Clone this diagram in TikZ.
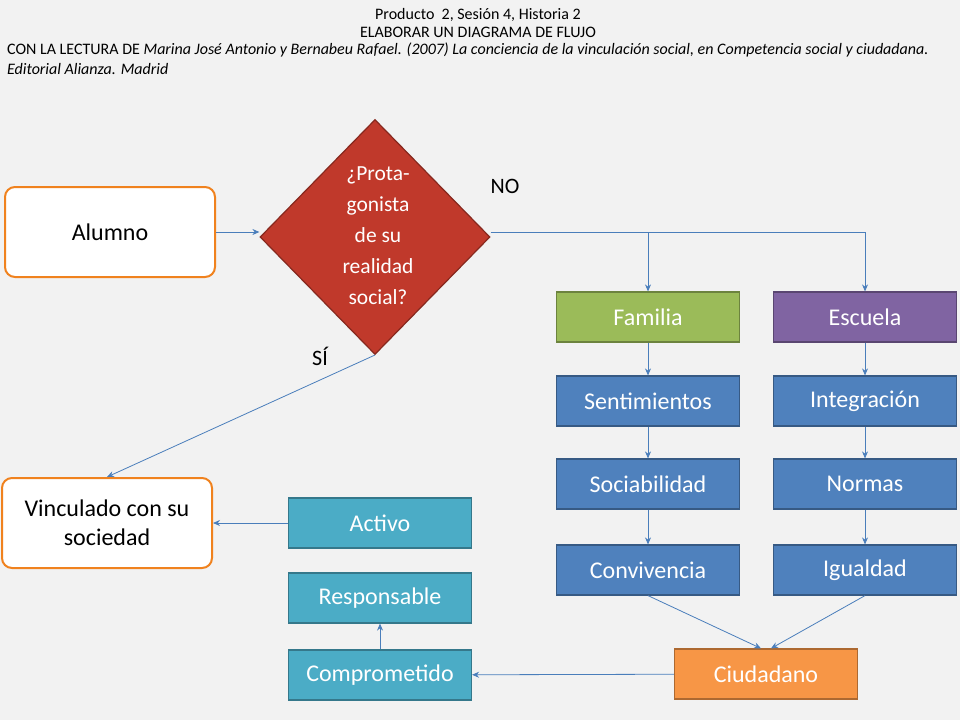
\documentclass[tikz,border=0pt]{standalone}
\usepackage{fontspec}
\setmainfont{Carlito}
\usetikzlibrary{shapes.geometric,arrows.meta}
\definecolor{bg}{HTML}{F2F2F2}
\definecolor{org}{HTML}{F0821E}
\definecolor{dred}{HTML}{C0392B}
\definecolor{grn}{HTML}{9BBB59}
\definecolor{prp}{HTML}{8064A2}
\definecolor{blu}{HTML}{4F81BD}
\definecolor{orf}{HTML}{F79646}
\definecolor{teal}{HTML}{4BACC6}
\definecolor{ln}{HTML}{4A7EBB}
\begin{document}
\begin{tikzpicture}[x=1pt,y=-1pt,
 box/.style={draw=#1!70!black,fill=#1,line width=1.2pt,text=white,minimum width=183pt,minimum height=50pt,inner sep=0pt,font=\fontsize{24}{26}\selectfont},
 rbox/.style={draw=org,fill=white,line width=2pt,rounded corners=10pt,minimum width=210pt,minimum height=90pt,align=center,font=\fontsize{24}{29}\selectfont},
 arr/.style={draw=ln,line width=0.8pt,-{Stealth[length=7pt,width=6pt]}},
 con/.style={draw=ln,line width=0.8pt}]
\fill[bg] (0,0) rectangle (960,720);
\node[font=\fontsize{16}{18}\selectfont] (t1) at (478,15) {Producto\ \ 2, Sesión 4, Historia 2};
\node[font=\fontsize{16}{18}\selectfont] (t2) at (478,32) {ELABORAR UN DIAGRAMA DE FLUJO};
\node[font=\fontsize{16}{20}\selectfont,anchor=north west,align=left,inner sep=0pt] (t3) at (7,43) {CON LA LECTURA DE \textit{Marina José Antonio y Bernabeu Rafael. (2007) La conciencia de la vinculación social, en Competencia social y ciudadana.}\\\textit{Editorial Alianza. Madrid}};
\node[rbox] (alumno) at (110,232) {Alumno};
\node[diamond,draw=dred!70!black,fill=dred,line width=1.2pt,minimum width=230pt,minimum height=235pt,inner sep=0pt,aspect=0.98] (dia) at (375,237) {};
\node[text=white,align=center,font=\fontsize{21.5}{31}\selectfont] (dtext) at (378,236) {¿Prota-\\gonista\\de su\\realidad\\social?};
\node[font=\fontsize{22}{24}\selectfont] (no) at (505,186) {NO};
\node[font=\fontsize{22}{24}\selectfont] (si) at (320,356) {SÍ};
\node[rbox] (vinc) at (107,523) {Vinculado con su\\sociedad};
\node[box=grn] (fam) at (648,317) {Familia};
\node[box=prp] (esc) at (865,317) {Escuela};
\node[box=blu] (sen) at (648,401) {Sentimientos};
\node[box=blu] (int) at (865,401) {Integración};
\node[box=blu] (soc) at (648,484) {Sociabilidad};
\node[box=blu] (nor) at (865,484) {Normas};
\node[box=blu] (con) at (648,570) {Convivencia};
\node[box=blu] (igu) at (865,570) {Igualdad};
\node[box=orf] (ciu) at (766,674) {Ciudadano};
\node[box=teal] (act) at (380,523) {Activo};
\node[box=teal] (res) at (380,598) {Responsable};
\node[box=teal] (com) at (380,675) {Comprometido};
\coordinate (j1) at (648,232);
\coordinate (j2) at (865,232);
\coordinate (dbot) at (375,355);
\draw[arr] (alumno) -- (dia.west |- alumno.east);
\draw[con] (dia.east |- j1) -- (j2);
\draw[arr] (j1) -- (fam);
\draw[arr] (j2) -- (esc);
\draw[arr] (dbot) -- (vinc.north);
\draw[arr] (fam) -- (sen);
\draw[arr] (sen) -- (soc);
\draw[arr] (soc) -- (con);
\draw[arr] (esc) -- (int);
\draw[arr] (int) -- (nor);
\draw[arr] (nor) -- (igu);
\draw[arr] (con.south) -- ([xshift=-5pt]ciu.north);
\draw[arr] (igu.south) -- ([xshift=5pt]ciu.north);
\draw[arr] (ciu) -- (com);
\draw[arr] (com) -- (res);
\draw[arr] (act) -- (vinc.east |- act.west);
\end{tikzpicture}
\end{document}
